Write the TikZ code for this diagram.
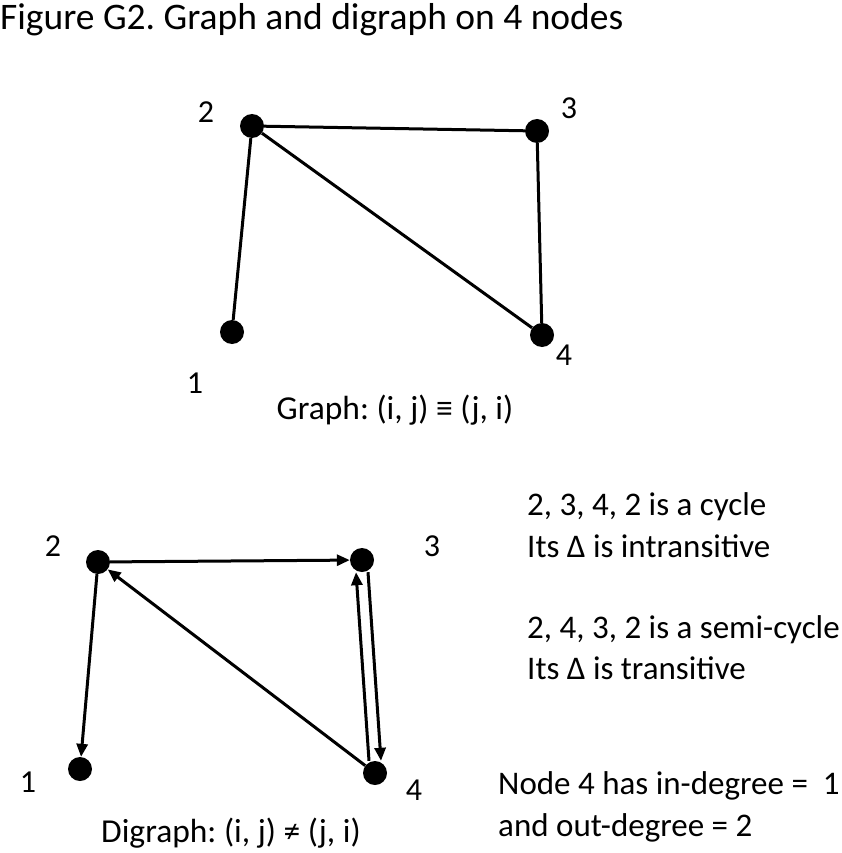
\documentclass[tikz,border=0pt]{standalone}
\usepackage{fontspec}
\setmainfont{Carlito}
\usetikzlibrary{arrows.meta}
\begin{document}
\frenchspacing
\begin{tikzpicture}[x=1pt,y=-1pt,
  vertex/.style={circle,fill=black,inner sep=0pt,minimum size=24pt},
  num/.style={font=\fontsize{32}{36}\selectfont,inner sep=0pt},
  txt/.style={font=\fontsize{33}{38}\selectfont,inner sep=0pt,anchor=west},
  captext/.style={font=\fontsize{33.5}{38}\selectfont,inner sep=0pt},
  edge/.style={line width=3pt},
  arc/.style={line width=3pt,-{Triangle[length=13pt,width=11pt]}}]
\useasboundingbox (0,0) rectangle (842,853);
\node[font=\fontsize{37.5}{42}\selectfont,anchor=west,inner sep=0pt] (title) at (0,20) {Figure G2. Graph and digraph on 4 nodes};
% top graph
\node[vertex] (a1) at (232,332) {};
\node[vertex] (a2) at (252,126) {};
\node[vertex] (a3) at (537,131) {};
\node[vertex] (a4) at (542,335) {};
\node[num] (la1) at (195,383) {1};
\node[num] (la2) at (206,112) {2};
\node[num] (la3) at (569,108) {3};
\node[num] (la4) at (564,355) {4};
\draw[edge] (a1) -- (a2);
\draw[edge] (a2) -- (a3);
\draw[edge] (a2) -- (a4);
\draw[edge] (a3) -- (a4);
\node[captext] (gcap) at (395,410) {Graph: (i, j) ≡ (j, i)};
% bottom digraph
\node[vertex] (b1) at (80,769) {};
\node[vertex] (b2) at (98,562) {};
\node[vertex] (b3) at (362,560) {};
\node[vertex] (b4) at (375,773) {};
\node[num] (lb1) at (28,782) {1};
\node[num] (lb2) at (53,546) {2};
\node[num] (lb3) at (432,546) {3};
\node[num] (lb4) at (414,790) {4};
\draw[arc] (b2) -- (b3);
\draw[arc] (b2) -- (b1);
\draw[arc] (b4) -- (b2);
\draw[arc] ([xshift=-6pt]b4.north) -- ([xshift=-6pt]b3.south);
\draw[arc] ([xshift=6pt]b3.south) -- ([xshift=6pt]b4.north);
\node[captext] (dcap) at (231,833) {Digraph: (i, j) ≠ (j, i)};
\node[txt] (t1) at (527,507) {2, 3, 4, 2 is a cycle};
\node[txt] (t2) at (527,546) {Its Δ is intransitive};
\node[txt] (t3) at (527,630) {2, 4, 3, 2 is a semi-cycle};
\node[txt] (t4) at (527,668) {Its Δ is transitive};
\node[txt] (t5) at (498,786) {Node 4 has in-degree =\ \ 1};
\node[txt] (t6) at (498,828) {and out-degree = 2};
\end{tikzpicture}
\end{document}
